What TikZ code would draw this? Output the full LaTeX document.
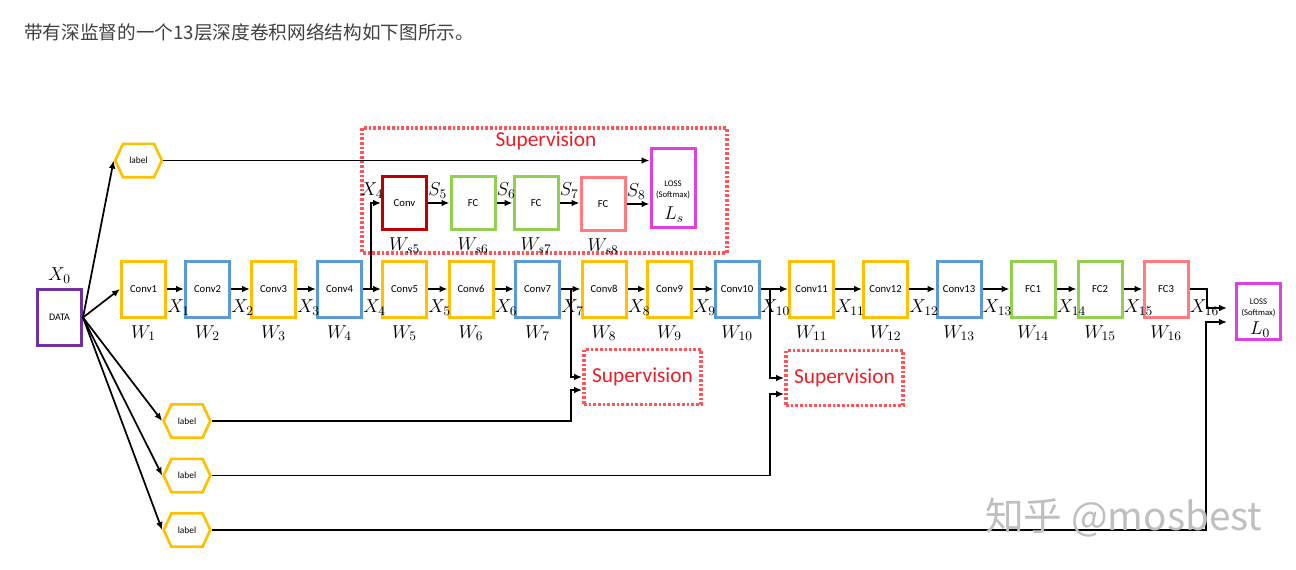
\RequirePackage{fix-cm}
\documentclass[tikz,border=0pt]{standalone}
\usepackage{fontspec}
\setmainfont{Carlito}
\newfontfamily\cjk{Noto Sans CJK SC}
\usepackage{tikz}
\usetikzlibrary{arrows.meta}
\usetikzlibrary{positioning}
\usetikzlibrary{shapes.symbols}
\definecolor{convyellow}{RGB}{255,192,0}
\definecolor{convblue}{RGB}{91,155,213}
\definecolor{fcgreen}{RGB}{146,208,80}
\definecolor{fcpink}{RGB}{255,124,128}
\definecolor{convred}{RGB}{192,0,0}
\definecolor{losspink}{RGB}{224,64,224}
\definecolor{datapurple}{RGB}{112,48,160}
\definecolor{supred}{RGB}{255,85,90}
\definecolor{suptext}{RGB}{235,30,40}
\tikzset{
  layer/.style={draw,line width=2.25pt,minimum width=33pt,minimum height=42pt,inner sep=0pt,font=\fontsize{8}{9}\selectfont},
  toplayer/.style={layer,minimum height=40pt},
  lossbox/.style={draw=losspink,line width=2.25pt,minimum width=33pt,inner sep=0pt},
  hexa/.style={draw=convyellow,line width=2pt,shape=signal,signal to=west and east,signal pointer angle=130,minimum width=35pt,minimum height=25pt,inner sep=0pt,font=\fontsize{7}{8}\selectfont},
  supline/.style={draw=supred,line width=2.6pt,dash pattern=on 2pt off 1.5pt},
  supbox/.style={supline,minimum width=88pt,minimum height=41pt,text=suptext,font=\fontsize{16}{18}\selectfont},
  suptxt/.style={text=suptext,font=\fontsize{16}{18}\selectfont},
  mlab/.style={inner sep=0pt,font=\fontsize{14}{16}\selectfont},
  losstxt/.style={align=center,inner sep=0pt,font=\fontsize{6.5}{8}\selectfont},
  arr/.style={line width=1.3pt,-{Latex[length=6pt,width=5pt]}},
}

\begin{document}
\begin{tikzpicture}[x=0.75pt,y=-0.75pt]
  \useasboundingbox (0,0) rectangle (1296,569);
  %TITLE
  \node[anchor=west,inner sep=0pt,text=black!75,font=\fontsize{14}{16}\selectfont] (title) at (24,32) {\cjk 带有深监督的一个13层深度卷积网络结构如下图所示。};
  %SUPERVISION FRAME
  \draw[supline] (362,128) rectangle (727,253);
  \node[suptxt] (suptop) at (546,141) {Supervision};
  %DATA
  \node[layer,draw=datapurple,font=\fontsize{7.5}{9}\selectfont] (data) at (59.5,317.5) {DATA};
  \node[mlab,above=3pt of data] (x0) {$X_0$};
  %MAIN ROW
  \foreach \i/\x/\lab/\col in {1/143.5/Conv1/convyellow,2/207.5/Conv2/convblue,3/273.5/Conv3/convyellow,
      4/339.5/Conv4/convblue,5/404.5/Conv5/convyellow,6/471/Conv6/convyellow,7/537.5/Conv7/convblue,
      8/604/Conv8/convyellow,9/669.5/Conv9/convyellow,10/737/Conv10/convblue,11/811.5/Conv11/convyellow,
      12/885.5/Conv12/convyellow,13/959/Conv13/convblue,14/1033/FC1/fcgreen,15/1100/FC2/fcgreen,16/1166/FC3/fcpink}{
    \node[layer,draw=\col] (c\i) at (\x,289) {\lab};
    \node[mlab,below=5pt of c\i] (w\i) {$W_{\i}$};
  }
  \foreach \i in {1,...,16}{
    \node[mlab,anchor=west] (x\i) at ([yshift=-14pt]c\i.east) {$X_{\i}$};
  }
  \foreach \i [count=\j from 2] in {1,...,15}{
    \draw[arr] (c\i.east) -- (c\i.east -| c\j.west);
  }
  %SUPERVISION BRANCH
  \node[toplayer,draw=convred] (sc) at (404.5,203) {Conv};
  \node[toplayer,draw=fcgreen] (sf6) at (473,203) {FC};
  \node[toplayer,draw=fcgreen] (sf7) at (536,203) {FC};
  \node[toplayer,draw=fcpink] (sf8) at (603,204) {FC};
  \node[lossbox,minimum height=59pt] (ls) at (673,188) {};
  \node[losstxt] (lstxt) at (673,190) {LOSS\\(Softmax)};
  \node[mlab] (lsl) at (674,215) {$L_s$};
  \foreach \n/\s in {sc/5,sf6/6,sf7/7,sf8/8}{
    \node[mlab,anchor=south west] (s\s) at ([yshift=3pt]\n.east) {$S_{\s}$};
    \node[mlab,below=5pt of \n] (ws\s) {$W_{s\s}$};
  }
  \node[mlab] (x4top) at (372,191) {$X_4$};
  \draw[arr] (sc.east) -- (sc.east -| sf6.west);
  \draw[arr] (sf6.east) -- (sf6.east -| sf7.west);
  \draw[arr] (sf7.east) -- (sf7.east -| sf8.west);
  \draw[arr] (sf8.east) -- (sf8.east -| ls.west);
  \coordinate (b4) at (371,289);
  \draw[arr] (b4) |- (sc.west);
  %LABELS
  \node[hexa] (lb1) at (138.5,160.5) {label};
  \node[hexa] (lb2) at (187,421) {label};
  \node[hexa] (lb3) at (187,475.5) {label};
  \node[hexa] (lb4) at (187,530) {label};
  \foreach \n in {lb1,c1,lb2,lb3,lb4}{
    \draw[arr] (data.east) -- (\n.west);
  }
  \draw[arr] (lb1.east) -- (lb1.east -| ls.west);
  %LOWER SUPERVISION
  \node[supbox] (supa) at (642.5,377) {Supervision};
  \node[supbox] (supb) at (844.5,378) {Supervision};
  \coordinate (b7) at (571,289);
  \coordinate (a7) at (571,390);
  \draw[arr] (b7) |- (supa.west);
  \draw[arr] (lb2.east) -| (a7) -- (a7 -| supa.west);
  \coordinate (b10) at (770,289);
  \coordinate (a10) at (770,394);
  \draw[arr] (b10) |- (supb.west);
  \draw[arr] (lb3.east) -| (a10) -- (a10 -| supb.west);
  %MAIN LOSS
  \node[lossbox,minimum height=42pt] (l0) at (1258.5,311.5) {};
  \node[losstxt] (l0txt) at (1258.5,308) {LOSS\\(Softmax)};
  \node[mlab] (l0l) at (1260,330) {$L_0$};
  \coordinate (b16) at (1207,308);
  \coordinate (a16) at (1206,322);
  \draw[arr,shorten >=6pt] (c16.east) -| (b16) -- (b16 -| l0.west);
  \draw[arr,shorten >=6pt] (lb4.east) -| (a16) -- (a16 -| l0.west);
  %WATERMARK
  \node[anchor=west,inner sep=0pt,text=black!25,font=\fontsize{29}{32}\selectfont] (mark) at (985,518) {\cjk 知乎 @mosbest};
\end{tikzpicture}
\end{document}
